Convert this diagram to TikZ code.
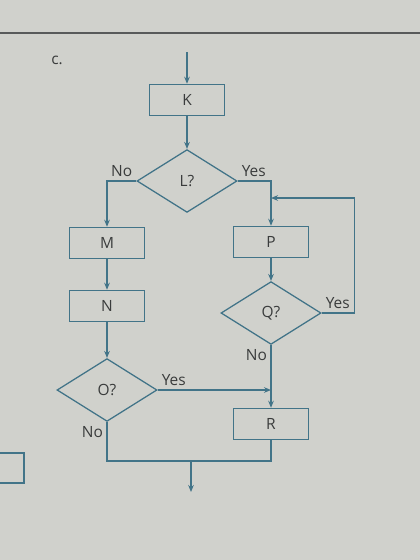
\documentclass[tikz,border=0pt]{standalone}
\usepackage{fontspec}
\setmainfont{Open Sans}
\usetikzlibrary{shapes.geometric,arrows.meta}
\definecolor{flowline}{RGB}{66,116,136}
\definecolor{paper}{RGB}{208,209,204}
\definecolor{inkgrey}{RGB}{58,60,60}
\definecolor{rulegrey}{RGB}{88,90,90}

\begin{document}
\begin{tikzpicture}
[
x=0.025cm, y=-0.025cm,
every node/.style={text=inkgrey, font=\fontsize{11}{13}\selectfont},
box/.style={rectangle, draw=flowline, line width=0.9pt, minimum width=1.875cm, minimum height=0.78cm, inner sep=0pt},
decision/.style={diamond, draw=flowline, line width=0.9pt, aspect=1.6, minimum width=2.5cm, minimum height=1.57cm, inner sep=0pt},
flow/.style={draw=flowline, line width=0.9pt, -{Stealth[length=5pt,width=4pt]}},
line/.style={draw=flowline, line width=0.9pt},
tag/.style={inner sep=2.5pt}
]
\fill[paper] (0,0) rectangle (420,560);
\useasboundingbox (0,0) rectangle (420,560);
\draw[rulegrey, line width=1pt] (0,33) -- (420,33);

\node (part) at (57,60) {c.};
\coordinate (start) at (187,52);
\node[box] (K) at (187,100) {K};
\node[decision] (L) at (187,181) {L?};
\node[box] (M) at (107,243) {M};
\node[box] (N) at (107,306) {N};
\node[decision] (O) at (107,390) {O?};
\node[box] (P) at (271,242) {P};
\node[decision] (Q) at (271,313) {Q?};
\node[box] (R) at (271,424) {R};
\coordinate (loopin) at (271,198);
\coordinate (join) at (191,461);
\coordinate (end) at (191,492);

\draw[flow] (start) -- (K);
\draw[flow] (K) -- (L);
\draw[flow] (L.west) node[tag, above left] {No} -| (M.north);
\draw[flow] (L.east) node[tag, above right] {Yes} -| (P.north);
\draw[flow] (M) -- (N);
\draw[flow] (N) -- (O);
\draw[flow] (P) -- (Q);
\draw[flow] (Q.east) node[tag, above right] {Yes} -- ++(33,0) |- (loopin);
\draw[flow] (Q.south) node[tag, below left] {No} -- (R.north);
\draw[flow] (O.east) node[tag, above right] {Yes} -- (O.east -| R.north);
\draw[line] (O.south) node[tag, below left] {No} |- (join);
\draw[line] (R.south) |- (join);
\draw[flow] (join) -- (end);

% box of the next figure, cut at the edge
\draw[line] (-20,453) rectangle (24,483);
\end{tikzpicture}
\end{document}
